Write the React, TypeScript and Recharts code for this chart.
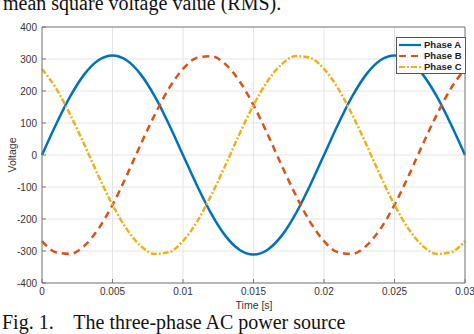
import React from 'react';
import { LineChart, Line, XAxis, YAxis, CartesianGrid } from 'recharts';

// samples every 1 ms
const time = [
  0, 0.001, 0.002, 0.003, 0.004, 0.005, 0.006, 0.007, 0.008, 0.009, 0.01,
  0.011, 0.012, 0.013, 0.014, 0.015, 0.016, 0.017, 0.018, 0.019, 0.02,
  0.021, 0.022, 0.023, 0.024, 0.025, 0.026, 0.027, 0.028, 0.029, 0.03,
];
const phaseA = [
  0, 96, 183, 252, 296, 311, 296, 252, 183, 96, 0,
  -96, -183, -252, -296, -311, -296, -252, -183, -96, 0,
  96, 183, 252, 296, 311, 296, 252, 183, 96, 0,
];
const phaseB = [
  -269, -304, -309, -284, -231, -156, -65, 33, 126, 208, 269,
  304, 309, 284, 231, 156, 65, -33, -126, -208, -269,
  -304, -309, -284, -231, -156, -65, 33, 126, 208, 269,
];
const phaseC = [
  269, 208, 126, 33, -65, -156, -231, -284, -309, -304, -269,
  -208, -126, -33, 65, 156, 231, 284, 309, 304, 269,
  208, 126, 33, -65, -156, -231, -284, -309, -304, -269,
];
const xTicks = [0, 0.005, 0.01, 0.015, 0.02, 0.025, 0.03];
const yTicks = [-400, -300, -200, -100, 0, 100, 200, 300, 400];

const series = [
  { key: 'Phase A', values: phaseA, color: '#0072BD', dash: undefined },
  { key: 'Phase B', values: phaseB, color: '#D95319', dash: '7 5' },
  { key: 'Phase C', values: phaseC, color: '#EDB120', dash: '6 2 2 2' },
];

const data = time.map((t, i) => ({
  t,
  'Phase A': phaseA[i],
  'Phase B': phaseB[i],
  'Phase C': phaseC[i],
}));

const axisFont = "'Liberation Sans Narrow', 'Arial Narrow', 'Liberation Sans', Arial, sans-serif";
const axisColor = '#7a7a7a';
const tickStyle = { fontSize: 10, fill: '#333', fontFamily: axisFont };
const serif = "'Liberation Serif', 'Times New Roman', serif";

export default function App() {
  return (
    <div style={{ position: 'fixed', left: 0, top: 0, width: 474, height: 334, overflow: 'hidden', background: '#fff' }}>
      <div style={{ position: 'absolute', left: 3, top: -7, whiteSpace: 'nowrap', fontFamily: serif, fontSize: 20, lineHeight: '20px', color: '#111' }}>
        mean square voltage value (RMS).
      </div>
      <LineChart
        width={474}
        height={334}
        data={data}
        margin={{ top: 26, right: 8, left: 12, bottom: 31 }}
      >
        <CartesianGrid stroke="#e4e4e4" strokeWidth={1} />
        <XAxis
          dataKey="t"
          type="number"
          domain={[0, 0.03]}
          ticks={xTicks}
          height={20}
          stroke={axisColor}
          tickSize={-4}
          tickMargin={9}
          tick={tickStyle}
          interval={0}
        />
        <XAxis xAxisId="top" orientation="top" dataKey="t" type="number" domain={[0, 0.03]} ticks={xTicks} height={1} stroke={axisColor} tickSize={-4} tick={false} />
        <YAxis
          type="number"
          domain={[-400, 400]}
          ticks={yTicks}
          width={30}
          stroke={axisColor}
          tickSize={-4}
          tickMargin={9}
          tick={tickStyle}
          interval={0}
        />
        <YAxis yAxisId="right" orientation="right" type="number" domain={[-400, 400]} ticks={yTicks} width={1} stroke={axisColor} tickSize={-4} tick={false} />
        {series.map((s) => (
          <Line
            key={s.key}
            type="monotone"
            dataKey={s.key}
            stroke={s.color}
            strokeWidth={2.5}
            strokeDasharray={s.dash}
            dot={false}
            isAnimationActive={false}
          />
        ))}
      </LineChart>
      <div
        style={{
          position: 'absolute', left: 396, top: 37, border: '1px solid #555', background: '#fff',
          padding: '1px 3px 1px 1px', fontFamily: axisFont, fontSize: 9.5, fontWeight: 'bold', color: '#222',
        }}
      >
        {series.map((s) => (
          <div key={s.key} style={{ display: 'flex', alignItems: 'center', height: 11 }}>
            <svg width={24} height={6} style={{ marginRight: 2 }}>
              <line x1={1} y1={3} x2={23} y2={3} stroke={s.color} strokeWidth={2.2} strokeDasharray={s.dash} />
            </svg>
            <span>{s.key}</span>
          </div>
        ))}
      </div>
      <div style={{ position: 'absolute', left: 12, top: 155, transform: 'translate(-50%, -50%) rotate(-90deg)', fontFamily: axisFont, fontSize: 10.5, color: '#333', whiteSpace: 'nowrap' }}>
        Voltage
      </div>
      <div style={{ position: 'absolute', left: 254, top: 305, transform: 'translate(-50%, -50%)', fontFamily: axisFont, fontSize: 10.5, color: '#333', whiteSpace: 'nowrap' }}>
        Time [s]
      </div>
      <div style={{ position: 'absolute', left: 2, top: 312, whiteSpace: 'pre', fontFamily: serif, fontSize: 20, lineHeight: '20px', color: '#111' }}>
        {'Fig. 1.    The three-phase AC power source'}
      </div>
    </div>
  );
}
